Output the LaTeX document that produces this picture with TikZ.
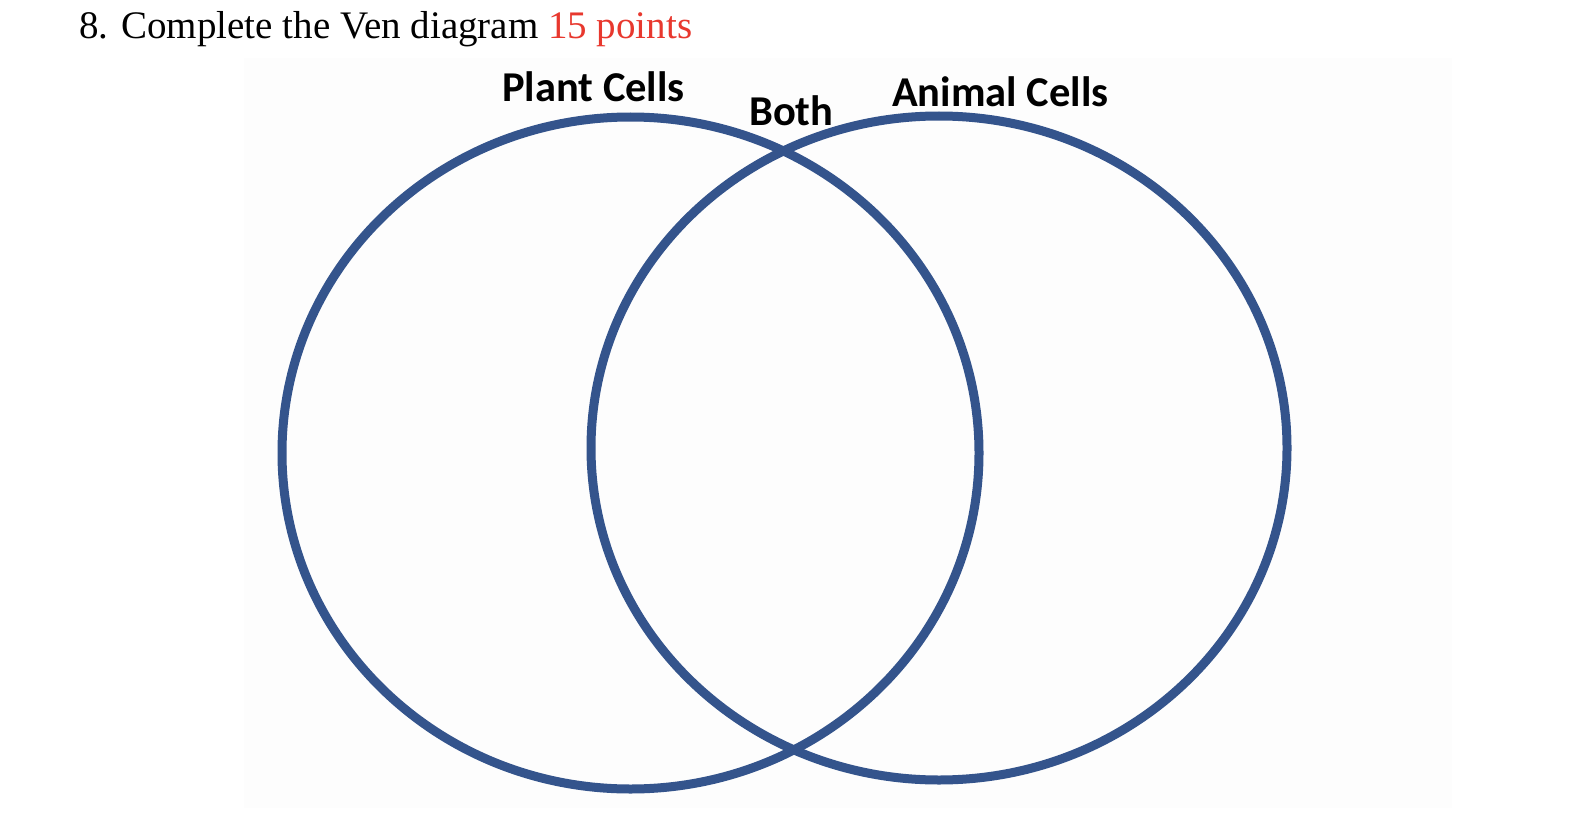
\documentclass[tikz,border=0pt]{standalone}
\usepackage{fontspec}
\setmainfont{Liberation Serif}
\newfontfamily\calib{Carlito}
\definecolor{vennblue}{RGB}{52,84,140}
\definecolor{ptred}{RGB}{232,56,46}
\definecolor{panelgray}{RGB}{253,253,253}
\begin{document}
\begin{tikzpicture}[x=1pt,y=-1pt,
  ring/.style={draw=vennblue,line width=9pt},
  label/.style={font=\calib\bfseries\fontsize{42.5}{46}\selectfont,anchor=base west,inner sep=0pt},
  title/.style={font=\fontsize{39}{42}\selectfont,anchor=base west,inner sep=0pt}]
\useasboundingbox (0,0) rectangle (1592,824);
\fill[white] (0,0) rectangle (1592,824);
\fill[panelgray] (244,58) rectangle (1452,808);
\node[title] (title) at (79,39) {8. Complete the Ven diagram \textcolor{ptred}{15 points}};
\draw[ring] (630.5,453) ellipse [x radius=348.5pt, y radius=336pt];
\draw[ring] (939,448) ellipse [x radius=348pt, y radius=332pt];
\node[label] (plant) at (502,102) {Plant Cells};
\node[label] (both) at (749,125) {Both};
\node[label] (animal) at (892,107) {Animal Cells};
\end{tikzpicture}
\end{document}
